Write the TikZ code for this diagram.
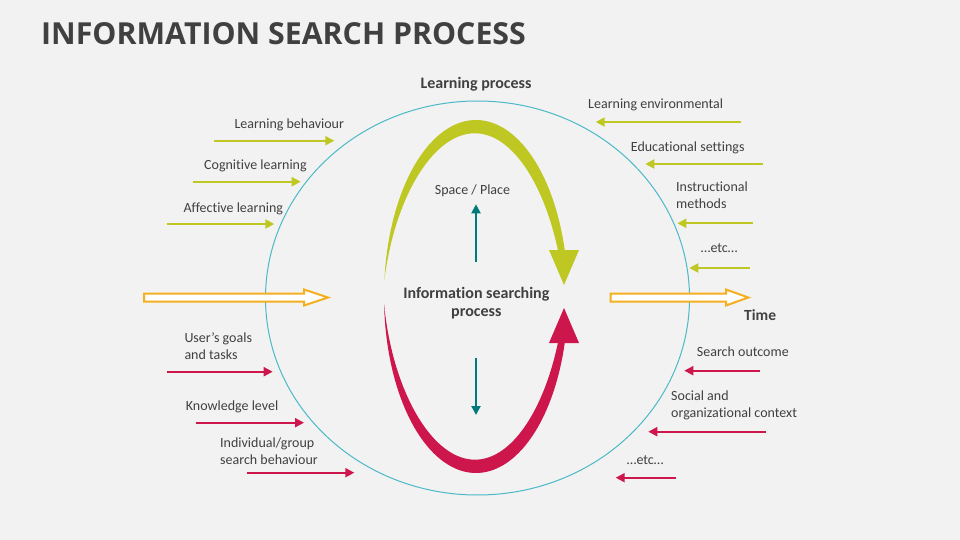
\documentclass[tikz,border=0pt]{standalone}
\usepackage{fontspec}
\setmainfont{Carlito}[Ligatures=NoCommon]
\newfontfamily\titlefont{Open Sans}
\usetikzlibrary{arrows.meta}
\definecolor{bgc}{HTML}{F2F2F2}
\definecolor{txtc}{HTML}{404040}
\definecolor{gcol}{HTML}{BFC723}
\definecolor{rcol}{HTML}{CC164C}
\definecolor{tcol}{HTML}{007A7A}
\definecolor{ccol}{HTML}{4BB9C8}
\definecolor{ocol}{HTML}{F5AF1E}
\tikzset{
  lbl/.style={anchor=base west,inner sep=0pt,text=txtc,font=\fontsize{14}{16.7}\selectfont,align=left},
  blbl/.style={inner sep=0pt,text=txtc,font=\fontsize{16}{17.7}\selectfont\bfseries,align=center},
  garrow/.style={draw=gcol,line width=2pt,-{Triangle[length=9pt,width=9pt]}},
  rarrow/.style={draw=rcol,line width=2pt,-{Triangle[length=9pt,width=9pt]}},
  tarrow/.style={draw=tcol,line width=2pt,-{Triangle[length=9pt,width=9pt]}},
  hollow/.style={draw=ocol,fill=white,line width=2pt,line join=miter},
}
\begin{document}
\begin{tikzpicture}[x=1pt,y=-1pt,
  declare function={tg(\u)=174.6-159.3*\u; tr(\u)=177.5-162.2*\u; wg(\u)=13.5*sin(150*\u);}]
\useasboundingbox (0,0) rectangle (960,540);
\fill[bgc] (0,0) rectangle (960,540);

% title
\node[anchor=base west,inner sep=0pt,text=txtc,font=\titlefont\fontsize{30.3}{36}\selectfont\bfseries] (title) at (41,45) {INFORMATION SEARCH PROCESS};

% big ellipse
\draw[ccol,line width=1pt] (477.5,298) ellipse [x radius=212, y radius=197];

% green arc
\fill[gcol] plot[domain=0:1,samples=90,variable=\s] ({476+92*cos(tg(\s))},{296.5-176.5*sin(tg(\s))})
  -- plot[domain=1:0,samples=90,variable=\s] ({476+(92-wg(\s))*cos(tg(\s))},{296.5-(176.5-wg(\s))*sin(tg(\s))}) -- cycle;
\fill[gcol] (549,250) -- (579,250) -- (564,285) -- cycle;
% red arc
\fill[rcol] plot[domain=0:1,samples=90,variable=\s] ({476+92*cos(tr(\s))},{296.5+176.5*sin(tr(\s))})
  -- plot[domain=1:0,samples=90,variable=\s] ({476+(92-wg(\s))*cos(tr(\s))},{296.5+(176.5-wg(\s))*sin(tr(\s))}) -- cycle;
\fill[rcol] (549,343) -- (579,343) -- (564,308) -- cycle;

% center texts
\node[blbl,anchor=base] (lp) at (476,88.3) {Learning process};
\node[blbl,anchor=base] (isp) at (476.3,316) {Information searching\\process};
\node[anchor=base,inner sep=0pt,text=txtc,font=\fontsize{14}{17}\selectfont] (sp) at (472.5,194.3) {Space / Place};
\node[blbl,anchor=base west,font=\fontsize{15.5}{18}\selectfont\bfseries] (time) at (744,320.7) {Time};

% teal arrows
\coordinate (tu1) at (476,262.3); \coordinate (tu2) at (476,204.3);
\coordinate (td1) at (476,357.7); \coordinate (td2) at (476,415);
\draw[tarrow] (tu1) -- (tu2);
\draw[tarrow] (td1) -- (td2);

% hollow arrows
\draw[hollow] (144,293.5) -- (304,293.5) -- (304,289.5) -- (328,297.5) -- (304,305.5) -- (304,301.5) -- (144,301.5) -- cycle;
\draw[hollow] (610.7,293.5) -- (726,293.5) -- (726,289.5) -- (748.3,297.5) -- (726,305.5) -- (726,301.5) -- (610.7,301.5) -- cycle;

% left green
\node[lbl] (lb) at (234.3,128.3) {Learning behaviour};
\node[lbl] (cl) at (204,170) {Cognitive learning};
\node[lbl] (al) at (183.3,212.7) {Affective learning};
\coordinate (lb1) at (214,140.7); \coordinate (lb2) at (334.3,140.7);
\coordinate (cl1) at (192.7,181.7); \coordinate (cl2) at (300.7,181.7);
\coordinate (al1) at (166.7,224); \coordinate (al2) at (274.3,224);
\draw[garrow] (lb1) -- (lb2);
\draw[garrow] (cl1) -- (cl2);
\draw[garrow] (al1) -- (al2);

% right green
\node[lbl] (le) at (588,108.3) {Learning environmental};
\node[lbl] (es) at (630.7,151.7) {Educational settings};
\node[lbl] (im) at (676,208.3) {Instructional\\methods};
\node[lbl] (ge) at (700.7,252.7) {\dots etc\dots};
\coordinate (le1) at (741,122); \coordinate (le2) at (595.7,122);
\coordinate (es1) at (762.7,164); \coordinate (es2) at (645.3,164);
\coordinate (im1) at (752.7,223.3); \coordinate (im2) at (677.3,223.3);
\coordinate (ge1) at (750,268); \coordinate (ge2) at (689.3,268);
\draw[garrow] (le1) -- (le2);
\draw[garrow] (es1) -- (es2);
\draw[garrow] (im1) -- (im2);
\draw[garrow] (ge1) -- (ge2);

% left red
\node[lbl] (ug) at (184.3,359.3) {User’s goals\\and tasks};
\node[lbl] (kl) at (185.7,410.7) {Knowledge level};
\node[lbl] (ig) at (220,464.3) {Individual/group\\search behaviour};
\coordinate (ug1) at (166.7,371.7); \coordinate (ug2) at (272.7,371.7);
\coordinate (kl1) at (195.7,422.7); \coordinate (kl2) at (304,422.7);
\coordinate (ig1) at (246.7,472.7); \coordinate (ig2) at (354.3,472.7);
\draw[rarrow] (ug1) -- (ug2);
\draw[rarrow] (kl1) -- (kl2);
\draw[rarrow] (ig1) -- (ig2);

% right red
\node[lbl] (so) at (696.7,356) {Search outcome};
\node[lbl] (soc) at (671,417.3) {Social and\\organizational context};
\node[lbl] (re) at (626.7,464.3) {\dots etc\dots};
\coordinate (so1) at (760,370.7); \coordinate (so2) at (684.3,370.7);
\coordinate (soc1) at (765.7,431.7); \coordinate (soc2) at (648.3,431.7);
\coordinate (re1) at (675.7,477.7); \coordinate (re2) at (615.7,477.7);
\draw[rarrow] (so1) -- (so2);
\draw[rarrow] (soc1) -- (soc2);
\draw[rarrow] (re1) -- (re2);
\end{tikzpicture}
\end{document}
